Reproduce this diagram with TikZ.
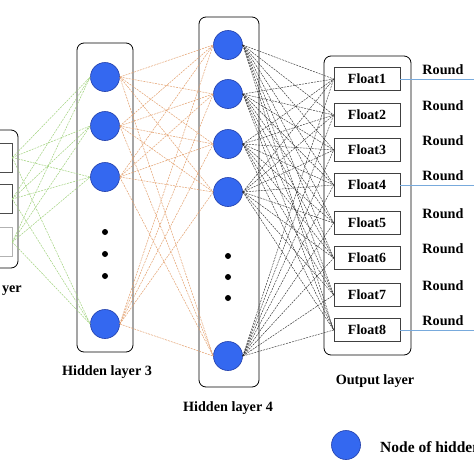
\documentclass[tikz,border=0pt]{standalone}
\usepackage{fontspec}
\setmainfont{Liberation Serif}
\begin{document}
\begin{tikzpicture}[x=1pt,y=-1pt,
  neuron/.style={circle,fill=nodeblue,draw=nodeedge,line width=0.6pt,minimum size=29pt,inner sep=0pt},
  layerbox/.style={draw=black,line width=0.8pt,rounded corners=7pt},
  fbox/.style={draw=black!75,line width=0.6pt,minimum width=66pt,minimum height=23pt,inner sep=0pt,font=\fontsize{14}{16}\selectfont\bfseries},
  lbox/.style={draw=black!70,line width=0.6pt,minimum width=26pt,minimum height=29pt,inner sep=0pt},
  lbl/.style={font=\fontsize{14.2}{16}\selectfont\bfseries,inner sep=0pt},
  vdot/.style={circle,fill=black,minimum size=6pt,inner sep=0pt},
  gline/.style={draw=linegreen,line width=0.5pt,dash pattern=on 2pt off 1pt},
  oline/.style={draw=lineorange,line width=0.5pt,dash pattern=on 2pt off 1pt},
  kline/.style={draw=black!80,line width=0.45pt,dash pattern=on 2pt off 1pt},
  bline/.style={draw=lineblue,line width=0.6pt}]
\definecolor{nodeblue}{RGB}{52,104,240}
\definecolor{nodeedge}{RGB}{30,60,170}
\definecolor{linegreen}{RGB}{160,210,125}
\definecolor{lineorange}{RGB}{228,160,110}
\definecolor{lineblue}{RGB}{120,170,220}
\useasboundingbox (0,0) rectangle (474,474);
\fill[white] (0,0) rectangle (474,474);

% left partial layer
\draw[layerbox] (-20,130) rectangle (18,268);
\node[lbox] (L1) at (-1,157.5) {};
\node[lbox] (L2) at (-1,199) {};
\node[lbox,draw=black!30] (L3) at (-1,242) {};
\node[lbl,anchor=east] (lt) at (22,291) {yer};

% hidden layer 3
\draw[layerbox] (77,43) rectangle (133,352);
\node[neuron] (a1) at (105,77) {};
\node[neuron] (a2) at (105,126) {};
\node[neuron] (a3) at (105,177) {};
\node[neuron] (a4) at (105,324) {};
\node[vdot] (ad1) at (105,232) {};
\node[vdot] (ad2) at (105,254) {};
\node[vdot] (ad3) at (105,276) {};
\node[lbl] (h3) at (107,372) {Hidden layer 3};

% hidden layer 4
\draw[layerbox] (199,17) rectangle (259,387);
\node[neuron] (b1) at (228,45) {};
\node[neuron] (b2) at (228,94) {};
\node[neuron] (b3) at (228,144) {};
\node[neuron] (b4) at (228,192) {};
\node[neuron] (b5) at (228,356) {};
\node[vdot] (bd1) at (228,256) {};
\node[vdot] (bd2) at (228,277) {};
\node[vdot] (bd3) at (228,298) {};
\node[lbl] (h4) at (228,408) {Hidden layer 4};

% output layer
\draw[layerbox] (324,56) rectangle (411,355);
\foreach \i/\y in {1/79,2/115,3/150,4/185,5/223,6/258,7/295,8/330}{
  \node[fbox] (f\i) at (367,\y) {Float\i};
  \node[lbl] (r\i) at (443,\y-9) {Round};
}
\node[lbl] (ol) at (375,381) {Output layer};

% connections
\foreach \l in {L1,L2,L3}{\foreach \a in {a1,a2,a3,a4}{\draw[gline] (\l.east) -- (\a.west);}}
\foreach \a in {a1,a2,a3,a4}{\foreach \b in {b1,b2,b3,b4,b5}{\draw[oline] (\a.east) -- (\b.west);}}
\foreach \b in {b1,b2,b3,b4,b5}{\foreach \f in {f1,f2,f3,f4,f5,f6,f7,f8}{\draw[kline] (\b.east) -- (\f.west);}}

% round lines
\coordinate (e1) at (474,79);
\coordinate (e4) at (474,185);
\coordinate (e8) at (474,330);
\draw[bline] (f1.east) -- (e1);
\draw[bline] (f4.east) -- (e4);
\draw[bline] (f8.east) -- (e8);

% legend
\node[neuron] (leg) at (346,445) {};
\node[lbl,anchor=west,font=\fontsize{15.5}{17}\selectfont\bfseries] (legt) at (380,447) {Node of hidden};
\end{tikzpicture}
\end{document}
